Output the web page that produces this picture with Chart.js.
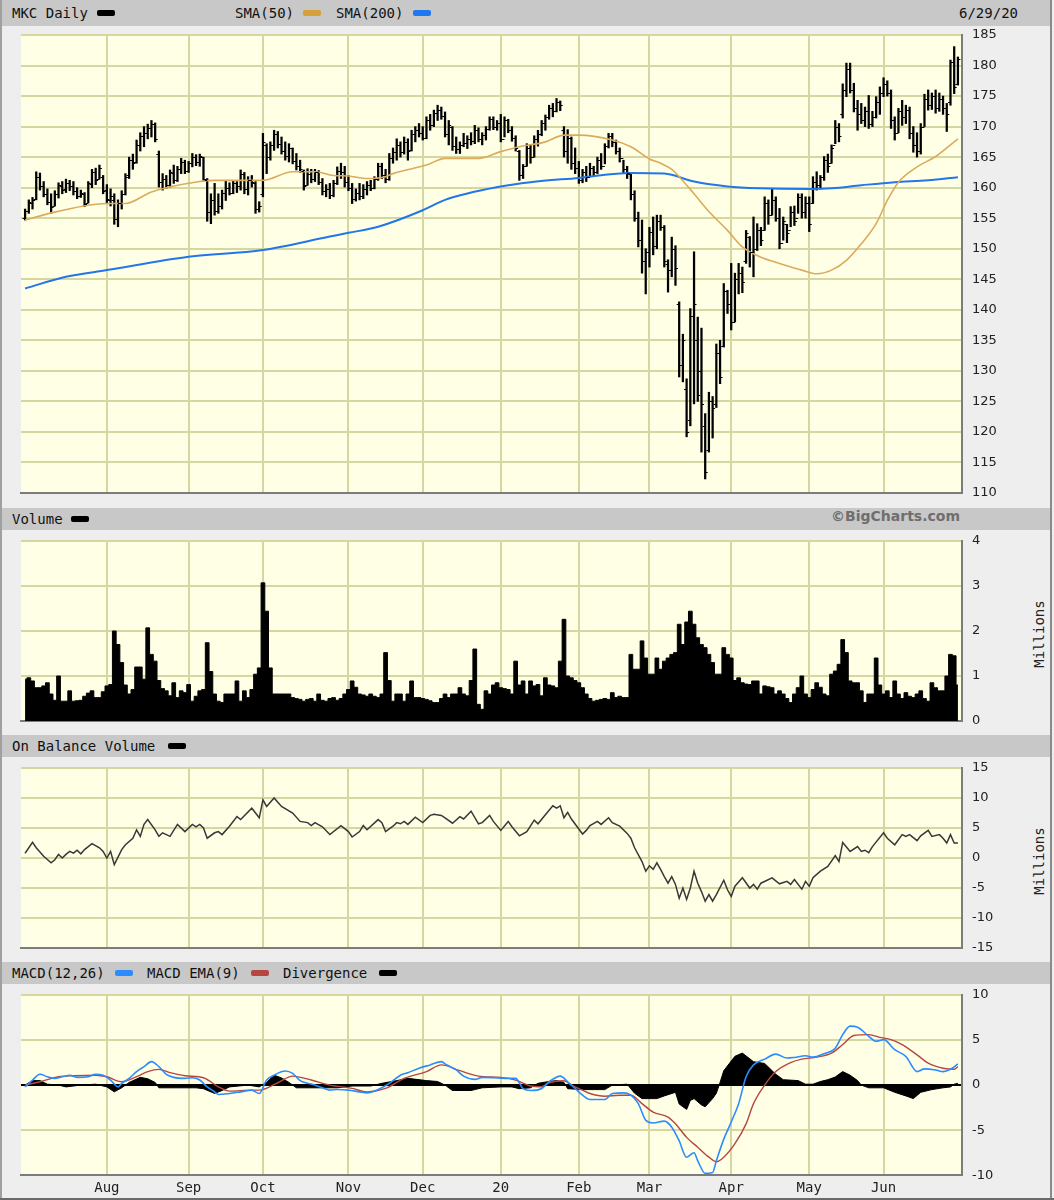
<!DOCTYPE html>
<html>
<head>
<meta charset="utf-8">
<script src="https://cdn.jsdelivr.net/npm/chart.js@4.4.1/dist/chart.umd.min.js"></script>
<style>
  body { margin: 0; width: 1054px; height: 1200px; background: #eeeeee; position: relative; overflow: hidden; }
  .bar { position: absolute; left: 2px; width: 1048px; background: #c8c8c8; font: 14px 'DejaVu Sans Mono', monospace; color: #111; }
  .bar span { position: absolute; top: 0; white-space: pre; }
  .bar i { position: absolute; width: 18px; height: 6px; border-radius: 2px; }
  .brand { font: bold 14px 'DejaVu Sans', sans-serif; color: #6e6e6e; }
  canvas { position: absolute; left: 0; }
  .units { position: absolute; font: 14px 'DejaVu Sans Mono', monospace; color: #222; transform: translate(-50%, -50%) rotate(-90deg); white-space: pre; }
  .edge { position: absolute; background: #a0a0a0; }
</style>
</head>
<body>

<div class="edge" style="left:0;top:0;width:2px;height:1200px"></div>
<div class="edge" style="left:1050px;top:0;width:2px;height:1200px;background:#8a8a8a"></div>
<div class="edge" style="left:0;top:1198px;width:1054px;height:2px;background:#6a6a6a"></div>

<div class="bar" style="top:0;height:26px;line-height:27px">
  <span style="left:10px">MKC Daily</span><i style="left:95px;top:10px;background:#000"></i>
  <span style="left:233px">SMA(50)</span><i style="left:301px;top:10px;background:#d4a037"></i>
  <span style="left:334px">SMA(200)</span><i style="left:411px;top:10px;background:#1e78f0"></i>
  <span style="left:957px">6/29/20</span>
</div>
<div class="bar" style="top:508px;height:22px;line-height:22px">
  <span style="left:10px">Volume</span><i style="left:69px;top:8px;background:#000"></i>
  <span class="brand" style="left:auto;right:90px">©BigCharts.com</span>
</div>
<div class="bar" style="top:735px;height:22px;line-height:22px">
  <span style="left:10px">On Balance Volume</span><i style="left:166px;top:8px;background:#000"></i>
</div>
<div class="bar" style="top:962px;height:22px;line-height:22px">
  <span style="left:10px">MACD(12,26)</span><i style="left:113px;top:8px;background:#2a8cff"></i>
  <span style="left:145px">MACD EMA(9)</span><i style="left:249px;top:8px;background:#b5473f"></i>
  <span style="left:281px">Divergence</span><i style="left:377px;top:8px;background:#000"></i>
</div>

<div class="units" style="left:1039px;top:634px">Millions</div>
<div class="units" style="left:1039px;top:861px">Millions</div>

<canvas id="priceChart" width="1054" height="494" style="top:17px"></canvas>
<canvas id="volChart" width="1054" height="216" style="top:523px"></canvas>
<canvas id="obvChart" width="1054" height="216" style="top:750px"></canvas>
<canvas id="macdChart" width="1054" height="225" style="top:977px"></canvas>

<script>
// trading day index 0 = Jul 1 2019, 251 = Jun 29 2020
const monthStarts = [22, 44, 64, 87, 107, 128, 149, 168, 190, 211, 231];
const monthNames = ['Aug', 'Sep', 'Oct', 'Nov', 'Dec', '20', 'Feb', 'Mar', 'Apr', 'May', 'Jun'];

const high = [
  156.5,158.0,158.4,162.6,162.4,161.0,159.8,159.0,159.5,160.8,
  161.0,161.4,161.2,161.0,160.0,159.6,159.2,161.0,163.0,163.2,
  163.7,162.0,160.5,159.8,159.0,158.0,159.5,162.3,165.0,165.5,
  167.8,169.0,170.0,170.4,171.0,170.6,166.0,162.3,162.0,162.9,
  163.7,163.5,164.8,164.5,164.3,165.6,165.4,165.5,165.0,161.5,
  159.0,160.7,159.0,159.6,161.2,160.8,161.2,161.0,162.9,162.5,
  161.8,162.0,161.0,157.7,168.9,167.2,167.5,169.4,169.2,168.3,
  167.5,167.2,166.5,165.6,164.5,162.9,163.1,163.0,163.0,162.8,
  161.5,160.5,160.7,161.2,163.4,164.0,163.5,162.0,160.7,159.8,
  160.7,160.5,161.0,161.2,161.8,164.0,164.0,163.0,165.6,166.5,
  168.0,167.5,168.3,168.0,169.4,170.0,170.5,170.0,171.6,172.0,
  172.7,173.5,173.2,172.4,171.0,170.0,168.3,167.5,168.9,168.5,
  169.0,170.2,169.8,169.0,170.0,171.6,171.6,171.0,172.0,171.6,
  171.2,170.0,168.5,166.1,163.8,167.2,167.0,168.5,169.4,171.0,
  171.9,173.5,173.8,174.6,174.2,170.0,169.5,168.3,166.5,164.3,
  163.0,163.5,164.0,163.5,165.0,165.6,167.2,168.9,168.9,167.8,
  166.5,164.5,163.5,162.5,159.5,156.0,154.7,150.0,153.5,155.2,
  155.5,155.5,153.8,148.2,151.9,150.5,141.3,136.0,128.7,140.2,
  149.5,138.8,137.0,123.0,126.5,125.8,134.4,135.0,144.3,143.2,
  147.6,146.0,147.6,147.0,153.0,152.0,155.2,154.1,153.5,158.5,
  158.0,159.8,158.5,156.6,155.2,154.0,156.9,157.0,159.0,159.0,
  158.5,158.5,161.8,162.6,162.0,165.1,165.5,167.0,171.0,170.5,
  177.0,180.4,180.4,177.1,174.3,173.8,173.2,175.1,172.5,174.9,
  176.5,178.0,177.5,176.0,171.6,173.0,174.3,173.5,173.2,170.0,
  169.0,170.5,175.3,176.0,175.5,176.0,175.5,175.0,173.8,180.9,
  183.1,181.4
];
const low = [
  154.7,155.8,156.5,158.0,159.6,158.5,157.2,155.8,157.0,158.3,
  159.0,159.2,159.5,158.8,158.2,158.4,156.9,157.5,160.0,160.5,
  161.4,159.0,157.4,157.0,154.0,153.6,156.5,158.8,161.5,163.0,
  164.0,166.0,166.7,168.0,168.3,167.5,160.1,159.6,159.9,160.1,
  160.7,161.0,162.3,162.3,162.5,163.4,163.6,163.5,161.2,154.5,
  154.1,155.5,155.8,156.5,157.9,158.8,159.0,159.2,159.6,159.0,
  158.8,160.1,155.8,156.0,158.5,162.3,164.5,166.1,166.5,165.5,
  164.5,164.2,163.9,162.9,162.5,159.6,160.4,160.8,161.0,160.5,
  158.8,158.5,158.2,158.5,160.5,161.5,160.1,159.5,157.4,157.8,
  158.0,158.2,158.8,159.5,159.8,161.2,161.5,160.8,161.2,164.0,
  164.5,165.0,165.5,164.5,166.0,167.5,168.3,167.8,168.0,169.4,
  170.0,171.0,171.2,168.3,167.0,166.1,165.6,165.6,166.7,166.4,
  167.0,167.2,167.5,167.0,167.8,169.4,169.5,169.4,167.5,168.3,
  169.0,167.6,166.0,161.2,161.5,163.5,164.0,165.0,166.8,168.5,
  169.4,171.2,171.6,172.4,172.6,165.0,164.0,163.0,162.3,160.7,
  160.8,161.0,161.8,161.9,162.3,163.0,163.9,166.5,166.7,165.5,
  164.2,162.3,161.5,158.0,154.5,150.3,146.0,142.6,147.0,149.0,
  150.0,153.0,147.0,142.9,145.4,144.0,129.0,128.2,119.2,121.0,
  124.6,125.0,116.7,112.3,116.7,119.0,124.0,127.9,133.9,139.4,
  136.7,138.0,142.6,142.8,147.6,147.0,145.4,149.7,150.5,153.0,
  154.0,155.5,154.5,150.0,151.4,151.0,153.6,153.8,155.8,155.0,
  155.0,152.8,157.4,159.6,159.8,161.2,162.5,164.0,167.2,167.5,
  171.4,174.9,175.5,172.4,169.4,170.5,170.0,169.7,170.0,171.4,
  172.0,174.9,175.0,169.7,167.8,169.0,170.2,170.5,168.0,165.8,
  165.0,165.5,170.0,172.7,172.8,172.2,172.5,172.0,169.2,173.5,
  175.4,176.8
];
const open = [
  155.0,156.2,157.5,158.2,161.8,160.2,159.0,157.6,157.0,159.0,
  160.3,159.8,160.8,160.2,159.4,158.7,159.0,157.5,160.6,162.5,
  161.4,161.8,159.6,158.0,158.0,154.8,157.5,159.0,162.0,164.5,
  164.2,167.0,168.4,169.0,169.8,170.5,165.5,161.0,161.5,160.5,
  162.4,161.3,163.0,164.2,162.8,164.0,165.0,164.2,165.0,161.2,
  156.0,158.0,156.2,157.0,159.2,160.0,159.2,160.8,160.2,162.3,
  159.8,161.2,160.8,156.5,159.0,167.0,165.0,167.0,168.8,167.2,
  166.0,165.2,166.5,164.3,163.5,162.8,160.5,162.2,161.4,162.5,
  161.0,159.5,159.8,158.8,160.8,162.8,162.5,161.0,160.0,158.2,
  159.2,158.6,159.8,160.4,160.0,161.5,163.5,162.0,161.5,164.8,
  165.8,167.0,165.8,167.5,166.2,168.8,169.4,169.0,168.2,171.0,
  170.2,172.3,172.8,171.8,168.8,170.0,166.8,166.4,167.0,167.3,
  168.0,167.6,169.5,168.0,168.6,169.6,171.2,170.0,170.6,168.0,
  171.0,169.5,168.2,166.0,162.0,163.5,166.5,165.0,168.0,168.8,
  170.6,171.5,173.0,172.5,174.0,169.5,166.0,168.2,164.0,163.2,
  161.2,162.5,161.8,163.2,162.5,164.6,163.6,166.8,168.5,167.5,
  166.0,164.8,163.0,162.2,159.0,155.0,151.5,148.0,149.5,152.8,
  150.5,154.5,153.5,147.5,146.5,150.0,141.0,131.0,127.0,122.0,
  139.0,135.0,130.0,121.0,117.0,125.0,124.5,133.0,134.0,143.0,
  141.0,138.0,145.0,146.0,148.0,152.0,149.5,150.0,153.0,153.0,
  157.5,155.5,158.0,155.0,151.0,154.0,153.0,156.0,155.0,158.5,
  156.0,157.5,157.5,161.0,160.5,161.8,164.5,164.0,167.0,170.0,
  172.0,176.0,179.5,176.0,173.0,172.0,171.0,172.5,170.5,171.5,
  174.0,175.5,177.0,175.5,171.0,169.0,172.5,171.5,172.8,169.0,
  167.0,166.0,170.0,174.5,173.5,175.0,173.0,174.5,173.0,174.0,
  180.5,177.0
];
const close = [
  156.2,157.6,158.0,161.8,160.2,159.0,157.6,156.8,159.0,160.4,
  159.6,160.8,160.3,159.4,158.7,159.2,157.3,160.7,162.5,161.2,
  163.3,159.5,158.2,158.6,154.8,157.5,159.0,161.8,164.5,164.0,
  167.0,168.4,169.0,169.8,170.5,168.0,161.0,161.5,160.4,162.5,
  161.2,163.0,164.2,162.8,164.0,165.0,164.2,165.2,161.5,156.0,
  158.0,156.2,157.0,159.2,160.0,159.2,160.8,160.2,162.3,159.8,
  161.2,161.0,156.5,157.0,167.5,165.0,167.0,168.8,167.2,166.0,
  165.2,166.5,164.3,163.5,163.0,160.2,162.2,161.4,162.5,161.0,
  159.5,159.8,158.8,160.8,162.8,162.5,161.0,160.0,158.2,159.2,
  158.6,159.8,160.4,160.0,161.5,163.5,162.0,161.5,164.8,165.8,
  167.0,165.8,167.5,166.0,168.8,169.4,169.0,168.2,171.0,170.2,
  172.3,172.8,171.8,168.8,170.2,166.8,166.4,167.0,167.3,168.0,
  167.6,169.5,168.0,168.6,169.6,171.2,170.0,170.6,168.0,171.0,
  169.5,168.2,166.5,162.0,163.5,166.5,165.0,168.0,168.8,170.6,
  171.5,173.0,172.5,174.0,173.5,166.0,168.2,164.0,163.2,161.2,
  162.5,161.8,163.2,162.5,164.6,163.6,166.8,168.5,167.5,166.0,
  164.8,163.0,162.4,159.0,155.0,151.5,148.0,149.5,152.8,150.5,
  154.5,153.5,148.0,146.5,150.0,146.8,131.0,135.0,120.0,139.0,
  141.0,126.0,124.5,113.5,125.0,124.0,133.0,129.0,143.0,141.0,
  138.0,145.0,146.0,144.5,152.5,149.5,150.0,153.0,151.5,157.5,
  155.5,158.0,155.0,151.0,154.5,152.5,156.0,154.5,158.5,156.0,
  157.5,154.0,161.0,160.5,161.8,164.5,163.5,166.5,170.0,168.5,
  176.0,179.5,176.0,173.0,172.0,171.0,172.5,170.5,171.5,174.0,
  175.5,177.0,175.5,171.0,169.0,172.5,171.5,172.8,169.0,167.0,
  166.0,170.0,174.5,173.5,175.0,173.0,174.5,173.0,172.0,180.5,
  176.5,181.0
];

const sma50Day = [0, 8, 22, 27, 34, 47, 51, 64, 72, 78, 83, 87, 92, 97, 99, 108, 113, 122, 128, 133, 140, 145, 149, 158, 163, 168, 171, 174, 176, 180, 184, 189, 193, 198, 203, 209, 213, 217, 221, 225, 229, 232, 235, 240, 245, 251];
const sma50Val = [154.7, 156.0, 157.4, 157.4, 159.3, 161.0, 161.2, 161.2, 162.6, 162.6, 162.0, 161.9, 161.5, 161.8, 162.3, 163.7, 164.8, 164.8, 165.9, 166.7, 167.5, 168.6, 168.6, 167.8, 166.7, 164.7, 164.0, 163.0, 161.8, 159.0, 156.1, 153.0, 150.3, 148.6, 147.6, 146.5, 145.9, 146.5, 148.1, 150.8, 154.1, 157.9, 160.9, 163.4, 165.1, 168.0];
const sma200Day = [0, 11, 22, 44, 64, 82, 87, 95, 107, 113, 128, 136, 149, 163, 172, 180, 189, 198, 211, 217, 225, 234, 243, 251];
const sma200Val = [143.5, 145.4, 146.5, 148.7, 149.8, 152.0, 152.6, 153.6, 156.3, 158.0, 160.2, 160.9, 161.6, 162.4, 162.3, 161.0, 160.2, 159.9, 159.8, 159.9, 160.4, 160.9, 161.2, 161.7];

// volume, millions of shares
const volume = [
  0.93,0.96,0.89,0.74,0.74,0.78,0.85,0.60,0.46,1.00,
  0.44,0.44,0.67,0.44,0.45,0.46,0.55,0.62,0.67,0.52,
  0.52,0.65,0.78,0.81,2.00,1.70,1.30,0.80,0.60,0.70,
  1.20,1.20,0.93,2.07,1.48,1.33,0.90,0.72,0.67,0.56,
  0.85,0.52,0.67,0.63,0.81,0.44,0.55,0.67,0.70,1.74,
  1.10,0.60,0.44,0.41,0.60,0.60,0.60,0.89,0.44,0.67,
  0.52,0.70,1.04,1.18,3.07,2.44,1.18,0.60,0.60,0.60,
  0.60,0.60,0.52,0.50,0.48,0.44,0.48,0.50,0.44,0.60,
  0.46,0.44,0.50,0.52,0.46,0.50,0.60,0.70,0.89,0.75,
  0.60,0.58,0.55,0.60,0.55,0.52,0.60,1.52,0.90,0.44,
  0.60,0.60,0.44,0.60,0.89,0.52,0.52,0.50,0.48,0.45,
  0.41,0.41,0.50,0.60,0.52,0.60,0.60,0.74,0.60,0.56,
  0.90,1.60,0.37,0.26,0.67,0.60,0.80,0.85,0.74,0.72,
  0.70,0.60,1.33,0.80,0.89,0.60,0.89,0.78,0.81,0.56,
  0.96,0.80,0.78,0.74,1.33,2.26,1.00,0.96,0.90,0.85,
  0.74,0.60,0.50,0.44,0.46,0.48,0.50,0.48,0.63,0.52,
  0.55,0.52,0.52,1.48,1.15,1.15,1.78,1.40,1.04,1.04,
  1.40,1.15,1.33,1.40,1.48,1.52,2.15,1.70,2.20,2.44,
  2.15,1.85,1.70,1.63,1.48,1.30,1.04,1.04,1.63,1.48,
  1.40,0.90,0.96,0.85,0.82,0.81,0.89,0.89,0.60,0.78,
  0.76,0.74,0.60,0.67,0.60,0.50,0.41,0.60,0.74,1.00,
  0.60,0.52,0.70,0.85,0.75,0.60,0.56,1.04,1.11,1.26,
  1.81,1.52,0.89,0.85,0.85,0.67,0.41,0.60,0.60,1.40,
  0.80,0.60,0.67,0.52,0.89,0.60,0.50,0.63,0.55,0.52,
  0.60,0.67,0.50,0.44,0.85,0.74,0.67,0.67,1.00,1.48,
  1.45,0.80
];

// on balance volume, millions
const obvDay = [0, 2, 3, 5, 7, 8, 9, 10, 11, 12, 13, 14, 15, 16, 18, 20, 21, 22, 23, 24, 26, 27, 29, 30, 31, 32, 33, 35, 36, 37, 39, 41, 43, 45, 46, 47, 48, 49, 51, 52, 53, 55, 57, 58, 61, 63, 64, 65, 67, 69, 72, 74, 76, 77, 78, 80, 82, 85, 87, 88, 90, 91, 92, 95, 96, 97, 99, 100, 101, 102, 103, 105, 107, 109, 110, 112, 113, 115, 117, 118, 120, 122, 123, 125, 126, 128, 130, 131, 133, 135, 137, 138, 140, 142, 143, 144, 145, 146, 147, 150, 151, 152, 154, 155, 157, 158, 160, 162, 163, 164, 166, 167, 168, 169, 170, 171, 172, 173, 174, 175, 176, 177, 178, 179, 180, 181, 182, 183, 184, 185, 186, 188, 189, 190, 191, 193, 195, 196, 197, 198, 201, 203, 205, 206, 207, 209, 210, 211, 212, 214, 216, 218, 219, 220, 222, 224, 225, 226, 227, 228, 231, 232, 234, 236, 237, 238, 240, 241, 243, 244, 246, 247, 248, 249, 250, 251];
const obvVal = [0.8, 2.6, 1.7, 0.3, -0.8, -0.3, 0.6, 0.0, 0.6, 1.1, 0.8, 1.3, 0.7, 1.4, 2.4, 1.7, 1.1, 0.0, 1.1, -1.1, 1.4, 2.2, 3.3, 4.7, 3.6, 5.6, 6.4, 4.7, 3.6, 4.2, 3.6, 5.6, 4.4, 5.6, 5.2, 5.6, 5.0, 3.3, 4.2, 4.4, 3.9, 5.3, 6.9, 6.4, 8.3, 6.7, 9.7, 8.6, 10.0, 8.6, 7.5, 6.1, 5.9, 5.4, 5.9, 5.2, 3.9, 5.4, 4.4, 3.5, 4.4, 5.4, 4.7, 6.4, 5.9, 4.4, 5.3, 5.9, 5.7, 6.1, 5.6, 6.8, 5.9, 7.1, 7.3, 7.1, 6.7, 5.8, 6.9, 6.5, 7.8, 5.7, 5.9, 7.1, 6.1, 4.6, 6.1, 5.2, 3.7, 4.4, 6.3, 5.7, 7.2, 8.7, 8.3, 8.7, 6.7, 7.6, 6.5, 4.0, 4.6, 5.4, 6.1, 5.6, 6.7, 5.9, 5.3, 4.1, 3.3, 1.7, -0.6, -2.2, -1.3, -1.9, -0.8, -1.9, -3.1, -4.2, -3.1, -4.4, -6.7, -5.0, -6.9, -5.0, -2.2, -4.2, -5.6, -7.2, -6.1, -7.2, -6.1, -3.7, -5.3, -6.4, -4.7, -3.3, -5.0, -4.4, -5.2, -4.2, -3.3, -4.3, -3.9, -4.4, -3.6, -5.2, -3.9, -4.7, -3.3, -2.2, -1.4, 0.4, -0.6, 2.6, 1.1, 1.9, 1.1, 1.3, 0.9, 1.9, 4.2, 3.3, 2.2, 3.9, 3.6, 3.9, 2.9, 3.7, 4.6, 3.6, 3.9, 3.3, 2.5, 3.9, 2.5, 2.5];

// MACD(12,26), EMA(9) signal, divergence
const macdDay = [0, 2, 4, 6, 8, 12, 14, 17, 19, 21, 23, 25, 26, 28, 30, 32, 34, 36, 38, 40, 43, 45, 47, 49, 51, 52, 55, 58, 61, 63, 65, 67, 70, 72, 74, 77, 80, 82, 84, 87, 90, 92, 95, 98, 101, 103, 106, 109, 112, 113, 116, 118, 121, 123, 126, 129, 132, 134, 136, 139, 141, 144, 146, 148, 150, 152, 156, 158, 161, 163, 165, 167, 169, 172, 174, 176, 178, 180, 181, 183, 185, 186, 188, 190, 192, 194, 196, 199, 202, 205, 207, 210, 212, 215, 218, 220, 222, 224, 227, 229, 231, 234, 237, 240, 242, 245, 247, 249, 251];
const macdVal = [-0.2, 0.56, 1.2, 0.93, 0.75, 1.1, 0.86, 0.93, 1.2, 1.1, 0.56, -0.2, 0.2, 0.75, 1.5, 2.05, 2.6, 2.05, 1.2, 0.86, 0.75, 0.82, 0.56, -0.2, -0.75, -1.05, -0.93, -0.75, -0.56, -0.93, 0.56, 1.1, 1.57, 1.3, 0.49, 0.11, -0.3, -0.56, -0.49, -0.56, -0.75, -0.86, -0.49, 0.19, 1.1, 1.38, 1.87, 2.24, 2.6, 2.35, 1.68, 1.0, 0.63, 0.86, 0.82, 0.75, 0.75, -0.4, -0.6, -0.37, 0.37, 1.0, 0.37, -0.37, -1.12, -1.6, -1.6, -0.93, -0.86, -1.12, -2.06, -3.9, -4.2, -4.0, -4.67, -6.2, -8.0, -7.5, -8.4, -9.8, -9.7, -8.4, -6.0, -4.1, -2.06, 0.93, 2.24, 2.88, 3.44, 3.0, 3.07, 3.25, 3.1, 3.48, 4.1, 5.6, 6.54, 6.43, 5.42, 4.86, 5.05, 3.93, 3.18, 1.5, 1.8, 1.68, 1.5, 1.76, 2.36];
const signalDay = [0, 4, 9, 13, 19, 22, 26, 30, 33, 36, 39, 43, 48, 52, 55, 61, 63, 68, 72, 77, 82, 88, 92, 97, 102, 108, 112, 117, 122, 128, 132, 136, 139, 141, 145, 147, 150, 152, 156, 160, 163, 166, 169, 173, 175, 178, 181, 184, 186, 188, 191, 194, 196, 199, 202, 206, 209, 213, 217, 220, 223, 227, 230, 233, 236, 240, 243, 247, 250, 251];
const signalVal = [0, 0.37, 0.93, 1.04, 1.1, 0.93, 0.37, 0.93, 1.5, 1.75, 1.38, 1.04, 0.82, -0.19, -0.67, -0.56, -0.56, 0.26, 1.0, 0.56, 0, -0.37, -0.75, -0.37, 0.75, 1.5, 2.24, 1.6, 1.0, 0.86, 0.56, -0.1, -0.19, 0.26, 0.49, 0, -0.56, -0.93, -1.23, -1.12, -1.12, -2.06, -3.0, -3.55, -4.3, -5.8, -6.9, -8.0, -8.5, -8.0, -6.5, -4.3, -2.06, 0, 1.5, 2.5, 2.88, 3.1, 3.55, 4.5, 5.5, 5.6, 5.3, 5.05, 4.5, 3.36, 2.43, 1.87, 1.76, 2.06];
const divDay = [0, 2, 4, 6, 9, 11, 15, 19, 22, 24, 26, 28, 31, 33, 35, 36, 40, 46, 48, 51, 53, 55, 60, 63, 65, 67, 69, 71, 73, 80, 84, 88, 93, 96, 100, 103, 108, 111, 113, 115, 120, 123, 128, 131, 133, 136, 138, 141, 143, 145, 146, 150, 156, 158, 162, 164, 166, 170, 172, 175, 176, 178, 179, 180, 182, 183, 185, 186, 187, 188, 191, 193, 196, 199, 202, 204, 208, 210, 212, 214, 216, 218, 220, 222, 224, 225, 227, 231, 234, 237, 239, 241, 244, 247, 249, 250, 251];
const divVal = [0, 0.5, 0.5, 0.1, 0, -0.2, 0, 0.1, -0.2, -0.75, -0.3, 0.3, 0.86, 0.7, 0.3, -0.3, -0.3, -0.3, -0.4, -0.93, -0.6, -0.2, 0, -0.2, 0.3, 1.1, 0.8, 0.3, -0.3, -0.3, -0.3, -0.1, -0.1, 0.2, 0.5, 0.75, 0.5, 0.4, 0, -0.6, -0.6, -0.3, -0.2, -0.2, -0.4, -0.3, 0.2, 0.4, 0.5, 0.3, -0.4, -0.5, -0.5, 0, 0.1, -0.9, -1.5, -1.5, -1.2, -0.8, -2.1, -2.7, -1.7, -1.5, -2.2, -2.4, -1.5, -0.9, 0.3, 1.6, 3.2, 3.55, 2.6, 2.4, 1.2, 0.6, 0.5, 0.1, 0.1, 0.4, 0.6, 0.9, 1.5, 1.1, 0.5, 0, -0.3, -0.3, -0.8, -1.2, -1.5, -0.8, -0.5, -0.3, -0.2, 0.1, 0.2];

const gridColor = '#d6d6a0';
const frameColor = '#7c7c7c';

const pairs = (xs, ys) => xs.map((x, k) => ({ x: x, y: ys[k] }));

const plotBg = {
  id: 'plotBg',
  beforeDraw(chart) {
    const a = chart.chartArea;
    const ctx = chart.ctx;
    ctx.save();
    ctx.fillStyle = '#ffffe6';
    ctx.fillRect(a.left, a.top, a.right - a.left, a.bottom - a.top);
    ctx.restore();
  }
};
Chart.register(plotBg);

// open tick on the left, close tick on the right of each high-low bar
const ohlcTicks = {
  id: 'ohlcTicks',
  afterDatasetsDraw(chart) {
    const ctx = chart.ctx;
    const x = chart.scales.x;
    const y = chart.scales.y;
    ctx.save();
    ctx.strokeStyle = '#000';
    ctx.lineWidth = 1;
    ctx.beginPath();
    close.forEach((c, i) => {
      const px = x.getPixelForValue(i);
      const yo = Math.round(y.getPixelForValue(open[i])) + 0.5;
      const yc = Math.round(y.getPixelForValue(c)) + 0.5;
      ctx.moveTo(px - 2.5, yo);
      ctx.lineTo(px, yo);
      ctx.moveTo(px, yc);
      ctx.lineTo(px + 2.5, yc);
    });
    ctx.stroke();
    ctx.restore();
  }
};

// top padding 18 = half a tick label plus the 10px label padding, so it is not enlarged by the library
function panelOptions(yMin, yMax, step, showMonths, padBottom, zeroLine) {
  return {
    responsive: false,
    animation: false,
    events: [],
    layout: { padding: { left: 21, right: 0, top: 18, bottom: padBottom } },
    plugins: { legend: { display: false }, tooltip: { enabled: false } },
    scales: {
      x: {
        type: 'linear',
        min: -1.1,
        max: 252.1,
        offset: false,
        afterBuildTicks: (s) => { s.ticks = monthStarts.map((v) => ({ value: v })); },
        grid: { color: gridColor, lineWidth: 2, drawTicks: false, offset: false },
        border: { color: frameColor, width: 2 },
        ticks: {
          display: showMonths,
          autoSkip: false,
          maxRotation: 0,
          padding: 5,
          color: '#222',
          font: { family: "'DejaVu Sans Mono', monospace", size: 14 },
          callback: (v) => monthNames[monthStarts.indexOf(v)]
        }
      },
      y: {
        position: 'right',
        min: yMin,
        max: yMax,
        afterFit: (s) => { s.width = 92; },
        grid: {
          drawTicks: false,
          color: (c) => (zeroLine && c.tick && c.tick.value === 0 ? '#000' : gridColor),
          lineWidth: 2
        },
        border: { color: frameColor, width: 2 },
        ticks: {
          stepSize: step,
          padding: 10,
          color: '#222',
          font: { family: "'DejaVu Sans', sans-serif", size: 13 }
        }
      }
    }
  };
}

new Chart(document.getElementById('priceChart'), {
  type: 'bar',
  data: {
    datasets: [
      {
        type: 'line',
        data: pairs(sma50Day, sma50Val),
        borderColor: '#dcaa5c',
        borderWidth: 1.6,
        pointRadius: 0,
        cubicInterpolationMode: 'monotone'
      },
      {
        type: 'line',
        data: pairs(sma200Day, sma200Val),
        borderColor: '#2276ea',
        borderWidth: 2,
        pointRadius: 0,
        cubicInterpolationMode: 'monotone'
      },
      {
        type: 'bar',
        data: high.map((h, i) => ({ x: i, y: [low[i], h] })),
        backgroundColor: '#000',
        barThickness: 1.6
      }
    ]
  },
  options: panelOptions(110, 185, 5, false, 18, false),
  plugins: [ohlcTicks]
});

new Chart(document.getElementById('volChart'), {
  type: 'line',
  data: {
    datasets: [{
      data: volume.map((v, i) => ({ x: i, y: v })),
      stepped: 'middle',
      fill: 'origin',
      backgroundColor: '#000',
      borderColor: '#000',
      borderWidth: 1,
      pointRadius: 0
    }]
  },
  options: panelOptions(0, 4, 1, false, 18, false)
});

new Chart(document.getElementById('obvChart'), {
  type: 'line',
  data: {
    datasets: [{
      data: pairs(obvDay, obvVal),
      borderColor: '#383838',
      borderWidth: 1.5,
      pointRadius: 0
    }]
  },
  options: panelOptions(-15, 15, 5, false, 18, false)
});

new Chart(document.getElementById('macdChart'), {
  type: 'line',
  data: {
    datasets: [
      { data: pairs(macdDay, macdVal), borderColor: '#2a8cff', borderWidth: 1.6, pointRadius: 0, cubicInterpolationMode: 'monotone' },
      { data: pairs(signalDay, signalVal), borderColor: '#b5473f', borderWidth: 1.4, pointRadius: 0, cubicInterpolationMode: 'monotone' },
      { data: pairs(divDay, divVal), borderColor: '#000', backgroundColor: '#000', borderWidth: 1, fill: 'origin', pointRadius: 0 }
    ]
  },
  options: panelOptions(-10, 10, 5, true, 0, true)
});
</script>
</body>
</html>
